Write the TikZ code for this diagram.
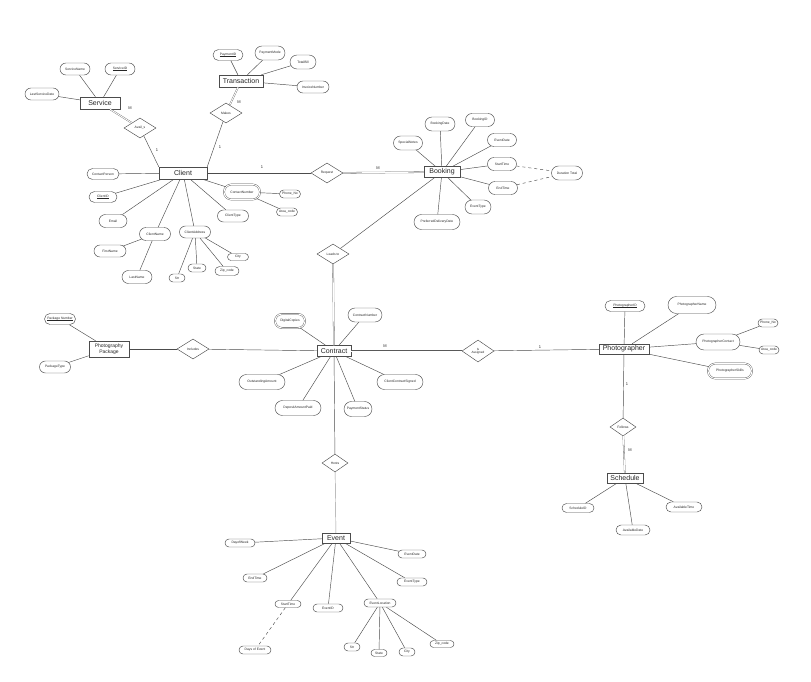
\documentclass[tikz,border=0pt]{standalone}
\usepackage{fontspec}
\setmainfont{Liberation Sans}
\usetikzlibrary{shapes.geometric,shapes.misc}
\newcommand\ukey[1]{\setbox0\hbox{#1}\rlap{\rule[-0.6pt]{\wd0}{0.18pt}}\box0}
\begin{document}
\begin{tikzpicture}[x=1pt,y=-1pt,
  ent/.style={draw=black!70, rectangle, fill=white, inner sep=1pt, font=\fontsize{7}{7.5}\selectfont, line width=0.5pt, align=center, text=black!85},
  attr/.style={draw=black!70, rounded rectangle, fill=white, inner xsep=2pt, inner ysep=0.5pt, font=\fontsize{3.3}{4}\selectfont, line width=0.45pt, text=black!85},
  multi/.style={attr, double, double distance=1pt, line width=0.35pt},
  rel/.style={draw=black!70, diamond, fill=white, inner sep=0pt, font=\fontsize{3.3}{4}\selectfont, line width=0.45pt, align=center, text=black!85},
  sz/.style 2 args={minimum width=#1pt, minimum height=#2pt},
  conn/.style={draw=black!70, line width=0.45pt},
  dbl/.style={draw=black!65, double, double distance=0.9pt, line width=0.3pt},
  derived/.style={draw=black!70, line width=0.45pt, dashed},
  card/.style={font=\fontsize{4}{5}\selectfont, inner sep=0pt, text=black!85}]
\useasboundingbox (0,0) rectangle (811,681);

% ---------- entities ----------
\node[ent, sz={40}{12}] (service) at (100,103) {Service};
\node[ent, sz={44}{12}] (trans) at (241,81) {Transaction};
\node[ent, sz={48}{12}] (client) at (183,173) {Client};
\node[ent, sz={36}{11}] (booking) at (442,172) {Booking};
\node[ent, sz={40}{16}, font=\fontsize{5}{5.5}\selectfont] (package) at (109,349) {Photography\\Package};
\node[ent, sz={34}{11}] (contract) at (334,351) {Contract};
\node[ent, sz={50}{10}] (photog) at (624,349) {Photographer};
\node[ent, sz={36}{10}] (schedule) at (625,478) {Schedule};
\node[ent, sz={28}{10}] (event) at (336,538) {Event};

% ---------- relationships ----------
\node[rel, sz={32}{20}] (avail) at (140,128) {Avail\_s};
\node[rel, sz={32}{20}] (makes) at (226,113) {Makes};
\node[rel, sz={32}{20}] (request) at (327,173) {Request};
\node[rel, sz={32}{20}] (leads) at (333,254) {Leads to};
\node[rel, sz={32}{20}] (includes) at (193,349) {Includes};
\node[rel, sz={32}{22}, font=\fontsize{3.1}{3.4}\selectfont] (assigned) at (478,351) {Is\\Assigned};
\node[rel, sz={26}{18}] (follows) at (623,427) {Follows};
\node[rel, sz={26}{18}] (hosts) at (335,463) {Hosts};

% ---------- attributes ----------
% Service
\node[attr, sz={34}{12}] (sname) at (75,69) {ServiceName};
\node[attr, sz={34}{12}] (sid) at (120,69) {\ukey{ServiceID}};
\node[attr, sz={38}{12}] (slast) at (42,94) {LastServiceDate};
% Transaction
\node[attr, sz={34}{11}] (payid) at (228,55) {\ukey{PaymentID}};
\node[attr, sz={34}{14}] (paymode) at (270,53) {PaymentMode};
\node[attr, sz={30}{14}] (total) at (303,62) {TotalBill};
\node[attr, sz={36}{12}] (invoice) at (313,87) {InvoiceNumber};
% Client
\node[attr, sz={36}{11}] (cperson) at (103,174) {ContactPerson};
\node[attr, sz={32}{11}] (cid) at (103,197) {\ukey{ClientID}};
\node[attr, sz={32}{13}] (email) at (113,221) {Email};
\node[attr, sz={35}{13}] (cname) at (155,234) {ClientName};
\node[attr, sz={36}{12}] (fname) at (110,251) {FirstName};
\node[attr, sz={34}{13}] (lname) at (137,277) {LastName};
\node[attr, sz={35}{12}] (caddr) at (195,232) {ClientAddress};
\node[attr, sz={20}{8}] (cstr) at (177,278) {Str};
\node[attr, sz={22}{8}] (cstate) at (197,268) {State};
\node[attr, sz={28}{9}] (czip) at (227,271) {Zip\_code};
\node[attr, sz={25}{7}] (ccity) at (238,257) {City};
\node[attr, sz={35}{12}] (ctype) at (233,216) {ClientType};
\node[multi, sz={40}{15}] (cnum) at (242,192) {ContactNumber};
\node[attr, sz={25}{8}] (cphone) at (290,194) {Phone\_No};
\node[attr, sz={25}{8}] (carea) at (287,212) {Area\_code};
% Booking
\node[attr, sz={33}{14}] (notes) at (408,143) {SpecialNotes};
\node[attr, sz={34}{14}] (bdate) at (440,124) {BookingDate};
\node[attr, sz={33}{13}] (bid) at (480,120) {BookingID};
\node[attr, sz={33}{13}] (edate) at (502,140) {EventDate};
\node[attr, sz={33}{13}] (stime) at (502,164) {StartTime};
\node[attr, sz={33}{13}] (etime) at (503,188) {EndTime};
\node[attr, sz={35}{14}] (dur) at (567,173) {Duration Total};
\node[attr, sz={30}{14}] (btype) at (478,207) {EventType};
\node[attr, sz={50}{15}] (pref) at (437,222) {PreferredDeliveryDate};
% Package
\node[attr, sz={35}{11}] (pnum) at (60,319) {\ukey{Package Number}};
\node[attr, sz={35}{12}] (ptype) at (55,367) {PackageType};
% Contract
\node[multi, sz={34}{14}] (digital) at (290,321) {DigitalCopies};
\node[attr, sz={38}{14}] (cnumber) at (365,315) {ContractNumber};
\node[attr, sz={50}{15}] (outst) at (262,382) {OutstandingAmount};
\node[attr, sz={50}{15}] (deposit) at (298,408) {DepositAmountPaid};
\node[attr, sz={32}{15}] (pstatus) at (358,409) {PaymentStatus};
\node[attr, sz={50}{15}] (signed) at (400,382) {ClientContractSigned};
% Photographer
\node[attr, sz={44}{11}] (phid) at (625,306) {\ukey{PhotographerID}};
\node[attr, sz={52}{17}] (phname) at (692,305) {PhotographerName};
\node[attr, sz={48}{16}] (phcont) at (718,342) {PhotographerContact};
\node[attr, sz={24}{8}] (phphone) at (768,323) {Phone\_No};
\node[attr, sz={24}{8}] (pharea) at (769,350) {Area\_code};
\node[multi, sz={48}{15}] (phskill) at (730,371) {PhotographerSkills};
% Schedule
\node[attr, sz={36}{9}] (schid) at (578,508) {ScheduleID};
\node[attr, sz={38}{10}] (avdate) at (633,530) {AvailableDate};
\node[attr, sz={40}{10}] (avtime) at (684,507) {AvailableTime};
% Event
\node[attr, sz={34}{8}] (dow) at (240,543) {DayofWeek};
\node[attr, sz={32}{8}] (evdate) at (412,554) {EventDate};
\node[attr, sz={28}{8}] (evend) at (255,578) {EndTime};
\node[attr, sz={34}{8}] (evtype) at (412,582) {EventType};
\node[attr, sz={30}{7}] (evstart) at (288,604) {StartTime};
\node[attr, sz={34}{8}] (evid) at (328,608) {EventID};
\node[attr, sz={36}{8}] (evloc) at (380,603) {EventLocation};
\node[attr, sz={36}{8}] (days) at (255,650) {Days of Event};
\node[attr, sz={20}{8}] (evstr) at (352,647) {Str};
\node[attr, sz={20}{7}] (evstate) at (379,653) {State};
\node[attr, sz={20}{8}] (evcity) at (407,652) {City};
\node[attr, sz={28}{7}] (evzip) at (442,644) {Zip\_code};

% ---------- relationship connectors ----------
\draw[dbl] (service) -- (avail);
\draw[conn] (avail) -- (client.north west);
\draw[dbl] (trans) -- (makes);
\draw[conn] (makes) -- (client.north east);
\draw[conn] (client) -- (request);
\draw[dbl] (request) -- (booking);
\draw[conn] (booking) -- (leads);
\draw[dbl] (leads) -- (contract);
\draw[conn] (package) -- (includes);
\draw[conn] (includes) -- (contract);
\draw[dbl] (contract) -- (assigned);
\draw[conn] (assigned) -- (photog);
\draw[conn] (photog) -- (follows);
\draw[dbl] (follows) -- (schedule);
\draw[conn] (contract) -- (hosts);
\draw[conn, draw=black!40] (hosts) -- (event);

% cardinalities
\node[card] (c1) at (130,108) {M};
\node[card] (c2) at (157,150) {1};
\node[card] (c3) at (239,102) {M};
\node[card] (c4) at (220,147) {1};
\node[card] (c5) at (262,167) {1};
\node[card] (c6) at (378,168) {M};
\node[card] (c7) at (385,346) {M};
\node[card] (c8) at (540,347) {1};
\node[card] (c9) at (627,384) {1};
\node[card] (c10) at (630,450) {M};

% ---------- attribute connectors ----------
\foreach \a in {sname,sid,slast} \draw[conn] (service) -- (\a);
\foreach \a in {payid,paymode,total,invoice} \draw[conn] (trans) -- (\a);
\foreach \a in {cperson,cid,email,cname,caddr,ctype,cnum} \draw[conn] (client) -- (\a);
\foreach \a in {fname,lname} \draw[conn] (cname) -- (\a);
\foreach \a in {cstr,cstate,czip,ccity} \draw[conn] (caddr) -- (\a);
\foreach \a in {cphone,carea} \draw[conn] (cnum) -- (\a);
\foreach \a in {notes,bdate,bid,edate,stime,etime,btype,pref} \draw[conn] (booking) -- (\a);
\draw[derived] (stime) -- (dur);
\draw[derived] (etime) -- (dur);
\foreach \a in {pnum,ptype} \draw[conn] (package) -- (\a);
\foreach \a in {digital,cnumber,outst,deposit,pstatus,signed} \draw[conn] (contract) -- (\a);
\foreach \a in {phid,phname,phcont,phskill} \draw[conn] (photog) -- (\a);
\foreach \a in {phphone,pharea} \draw[conn] (phcont) -- (\a);
\foreach \a in {schid,avdate,avtime} \draw[conn] (schedule) -- (\a);
\foreach \a in {dow,evdate,evend,evtype,evstart,evid,evloc} \draw[conn] (event) -- (\a);
\foreach \a in {evstr,evstate,evcity,evzip} \draw[conn] (evloc) -- (\a);
\draw[derived] (evstart) -- (days);
\end{tikzpicture}
\end{document}
